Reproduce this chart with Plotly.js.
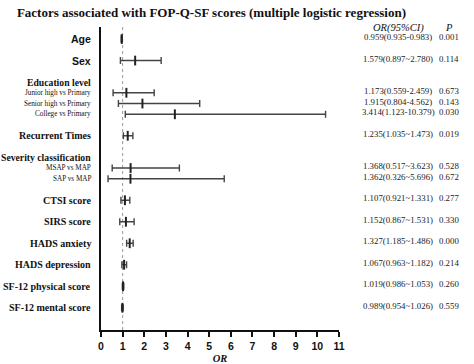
<!DOCTYPE html>
<html>
<head>
<meta charset="utf-8">
<script src="https://cdn.plot.ly/plotly-3.0.1.min.js"></script>
<style>html,body{margin:0;padding:0;background:#fff;}#chart{width:474px;height:364px;}</style>
</head>
<body>
<div id="chart"></div>
<script>
// ---- data ----
const rowLabels = ['Age','Sex','Education level','Junior high vs Primary','Senior high vs Primary','College vs Primary',
  'Recurrent Times','Severity classification','MSAP vs MAP','SAP vs MAP','CTSI score','SIRS score',
  'HADS anxiety','HADS depression','SF-12 physical score','SF-12 mental score'];
const rowKinds = ['main','main','header','sub','sub','sub','main','header','sub','sub','main','main','main','main','main','main'];
const orValues = [0.959,1.579,null,1.173,1.915,3.414,1.235,null,1.368,1.362,1.107,1.152,1.327,1.067,1.019,0.989];
const ciLower  = [0.935,0.897,null,0.559,0.804,1.123,1.035,null,0.517,0.326,0.921,0.867,1.185,0.963,0.986,0.954];
const ciUpper  = [0.983,2.780,null,2.459,4.562,10.379,1.473,null,3.623,5.696,1.331,1.531,1.486,1.182,1.053,1.026];
const pValues  = ['0.001','0.114',null,'0.673','0.143','0.030','0.019',null,'0.528','0.672','0.277','0.330','0.000','0.214','0.260','0.559'];
const ciSeps   = ['-','~',null,'-','-','-','~',null,'~','~','~','~','~','~','~','~'];
const xTicks = [0,1,2,3,4,5,6,7,8,9,10,11];

// ---- layout helpers ----
const rowPos = [];
rowKinds.forEach((k,i)=>{ rowPos.push(i===0?0:rowPos[i-1]+(k==='sub'?1:2)); });
const sansLabels = ['Age','Sex'];

const xs=[], ys=[], ep=[], em=[];
orValues.forEach((v,i)=>{ if(v!==null){ xs.push(v); ys.push(rowPos[i]); ep.push(ciUpper[i]-v); em.push(v-ciLower[i]); } });

const trace = {
  type:'scatter', mode:'markers', x:xs, y:ys,
  marker:{symbol:'line-ns', size:7, color:'#222', line:{width:2,color:'#222'}},
  error_x:{type:'data', symmetric:false, array:ep, arrayminus:em, color:'#444', thickness:1.4, width:3.5},
  hoverinfo:'skip', cliponaxis:false, showlegend:false
};

const serif = 'Liberation Serif, Times New Roman, serif';
const sans = 'Liberation Sans, Arial, sans-serif';
const annotations = [];
rowLabels.forEach((lab,i)=>{
  const kind = rowKinds[i];
  const isSans = sansLabels.includes(lab);
  const size = kind==='sub' ? 7.2 : (isSans ? 10.5 : (kind==='header' ? 9.7 : 10));
  annotations.push({xref:'paper', yref:'y', x:0, y:rowPos[i], xanchor:'right', yanchor:'middle', xshift:-8,
    text: kind==='sub'? lab : '<b>'+lab+'</b>', showarrow:false,
    font:{family: isSans? sans : serif, size:size, color:'#111'}});
  if(orValues[i]!==null){
    const t = orValues[i].toFixed(3)+'('+ciLower[i].toFixed(3)+ciSeps[i]+ciUpper[i].toFixed(3)+')';
    annotations.push({xref:'paper', yref:'y', x:1.248, y:rowPos[i], xanchor:'center', yanchor:'middle', yshift:2,
      text:t, showarrow:false, font:{family:serif, size:8.8, color:'#222'}});
    annotations.push({xref:'paper', yref:'y', x:1.462, y:rowPos[i], xanchor:'center', yanchor:'middle', yshift:2,
      text:pValues[i], showarrow:false, font:{family:serif, size:8.8, color:'#222'}});
  }
});
annotations.push({xref:'paper', yref:'paper', x:1.248, y:0.997, xanchor:'center', yanchor:'middle',
  text:'<i>OR(95%CI)</i>', showarrow:false, font:{family:serif, size:10.5, color:'#111'}});
annotations.push({xref:'paper', yref:'paper', x:1.462, y:0.997, xanchor:'center', yanchor:'middle',
  text:'<i>P</i>', showarrow:false, font:{family:serif, size:10.5, color:'#111'}});

const layout = {
  width:474, height:364,
  margin:{l:101, r:135, t:27, b:34},
  paper_bgcolor:'#fff', plot_bgcolor:'#fff',
  title:{text:'<b>Factors associated with FOP-Q-SF scores (multiple logistic regression)</b>',
    font:{family:serif, size:13, color:'#111'}, x:0.464, xanchor:'center', xref:'paper', y:0.965, yanchor:'middle', yref:'container'},
  xaxis:{range:[0,11], tickvals:xTicks, ticktext:xTicks.map(String), showgrid:false, zeroline:false,
    showline:true, linecolor:'#111', linewidth:2, ticks:'outside', ticklen:5, tickwidth:2, tickcolor:'#111',
    tickfont:{family:sans, size:10.5, color:'#111', weight:'bold'},
    title:{text:'<b><i>OR</i></b>', font:{family:serif, size:10.5, color:'#111'}, standoff:4}},
  yaxis:{range:[27.07,-1.12], showgrid:false, zeroline:false, showticklabels:false, ticks:'',
    showline:true, linecolor:'#111', linewidth:2},
  shapes:[{type:'line', xref:'x', yref:'paper', x0:1, x1:1, y0:0, y1:1, line:{color:'#999', width:1, dash:'dot'}, layer:'below'}],
  annotations:annotations
};

Plotly.newPlot('chart',[trace],layout,{displayModeBar:false, staticPlot:true});
</script>
</body>
</html>
